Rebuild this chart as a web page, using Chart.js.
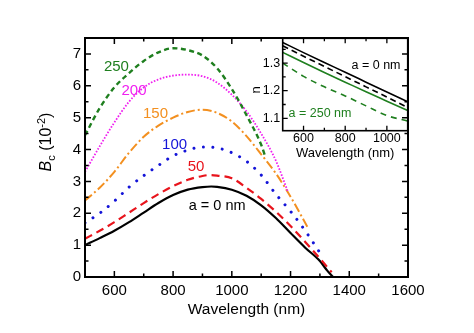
<!DOCTYPE html>
<html><head><meta charset="utf-8">
<script src="https://cdn.jsdelivr.net/npm/chart.js@4.4.1/dist/chart.umd.min.js"></script>
<style>
html,body{margin:0;padding:0;background:#fff;}
#wrap{position:relative;width:474px;height:333px;}
canvas{position:absolute;left:0;top:0;}
</style></head><body>
<div id="wrap"><canvas id="main" width="474" height="333"></canvas><canvas id="inset" width="474" height="333"></canvas></div>
<script>
// ---- main panel data: B_c (10^-2) vs wavelength (nm) ----
const lamA0   = [500,550,600,650,700,750,800,850,900,930,950,1000,1050,1100,1150,1200,1250,1300,1325,1345];
const bcA0    = [1.0,1.22,1.45,1.72,2.02,2.32,2.57,2.74,2.82,2.84,2.83,2.74,2.55,2.25,1.85,1.38,0.92,0.5,0.2,0.0];
const lamA50  = [500,550,600,650,700,750,800,850,900,925,950,1000,1050,1100,1150,1200,1250,1300,1340];
const bcA50   = [1.2,1.45,1.72,2.02,2.32,2.6,2.85,3.05,3.17,3.2,3.18,3.1,2.8,2.45,2.05,1.6,1.1,0.58,0.15];
const lamA100 = [500,550,600,650,700,750,800,850,900,950,1000,1050,1100,1150,1200,1250,1305];
const bcA100  = [1.7,2.0,2.38,2.82,3.18,3.5,3.8,3.98,4.08,4.05,3.9,3.63,3.2,2.6,2.06,1.45,0.69];
const lamA150 = [500,550,600,650,700,750,800,850,900,950,1000,1050,1100,1150,1200,1260];
const bcA150  = [2.4,2.8,3.3,3.9,4.4,4.75,5.0,5.18,5.25,5.15,4.88,4.42,3.85,3.25,2.52,1.53];
const lamA200 = [500,550,600,650,700,750,800,850,900,950,1000,1050,1100,1150,1190];
const bcA200  = [3.3,4.1,4.85,5.5,5.95,6.2,6.32,6.35,6.3,6.1,5.72,5.2,4.5,3.65,2.7];
const lamA250 = [500,550,600,650,700,750,800,850,900,950,1000,1050,1100,1115];
const bcA250  = [4.45,5.3,5.95,6.4,6.78,7.05,7.18,7.12,6.95,6.55,5.9,5.08,4.15,3.75];
const seriesNames = ['a = 0 nm','50','100','150','200','250'];
const mainXTicks = [500,600,700,800,900,1000,1100,1200,1300,1400,1500,1600];
const mainYTicks = [0,0.5,1,1.5,2,2.5,3,3.5,4,4.5,5,5.5,6,6.5,7,7.5];

// ---- inset data: n vs wavelength (nm) ----
const lamIn   = [500,600,700,800,900,1000,1100];
const nA0     = [1.375,1.338,1.302,1.267,1.231,1.195,1.16];
const nA0d    = [1.363,1.325,1.288,1.251,1.214,1.177,1.139];
const nA250   = [1.339,1.302,1.266,1.231,1.196,1.162,1.128];
const nA250d  = [1.300,1.252,1.214,1.181,1.145,1.110,1.090];
const insetXTicks = [500,600,700,800,900,1000,1100];
const insetYTicks = [1.1,1.15,1.2,1.25,1.3,1.35];

const pts = (xs, ys) => xs.map((x,i)=>({x, y: ys[i]}));
const FONT = "'Liberation Sans', Arial, Helvetica, sans-serif";
Chart.defaults.font.family = FONT;
Chart.defaults.color = '#000';

const C = {black:'#000000', red:'#e8141c', blue:'#1414d8', orange:'#f39020', magenta:'#f020f0', green:'#1f7f1f'};

const frameTicks = {
  id: 'frameTicks',
  afterDraw(chart, args, o) {
    const {ctx, chartArea: a, scales: {x, y}} = chart;
    ctx.save();
    ctx.strokeStyle = '#000';
    ctx.lineWidth = o.lw;
    ctx.strokeRect(a.left, a.top, a.right - a.left, a.bottom - a.top);
    ctx.lineWidth = o.tw;
    ctx.beginPath();
    x.ticks.forEach(t => {
      const p = x.getPixelForValue(t.value);
      if (p <= a.left + 0.5 || p >= a.right - 0.5) return;
      const L = t.label !== '' ? o.major : o.minor;
      ctx.moveTo(p, a.bottom); ctx.lineTo(p, a.bottom - L);
      if (o.topLimit == null || p < o.topLimit) { ctx.moveTo(p, a.top); ctx.lineTo(p, a.top + L); }
    });
    y.ticks.forEach(t => {
      const p = y.getPixelForValue(t.value);
      if (p >= a.bottom - 0.5 || p <= a.top + 0.5) return;
      const L = t.label !== '' ? o.major : o.minor;
      ctx.moveTo(a.left, p); ctx.lineTo(a.left + L, p);
      if (o.right) { ctx.moveTo(a.right, p); ctx.lineTo(a.right - L, p); }
    });
    ctx.stroke();
    (o.texts || []).forEach(tx => {
      ctx.font = tx.font; ctx.fillStyle = tx.color;
      ctx.textAlign = 'center'; ctx.textBaseline = 'middle';
      ctx.fillText(tx.text, x.getPixelForValue(tx.x), y.getPixelForValue(tx.y));
    });
    if (o.ytitle) {
      const yt = o.ytitle;
      ctx.translate(yt.cx, yt.cy);
      ctx.rotate(-Math.PI / 2);
      ctx.textAlign = 'left'; ctx.textBaseline = 'alphabetic'; ctx.fillStyle = '#000';
      let total = 0;
      yt.runs.forEach(r => { ctx.font = r.font; total += ctx.measureText(r.text).width; });
      let cx = -total / 2;
      yt.runs.forEach(r => { ctx.font = r.font; ctx.fillText(r.text, cx, yt.base + (r.dy || 0)); cx += ctx.measureText(r.text).width; });
    }
    ctx.restore();
  }
};

function lineDs(label, xs, ys, color, width, dash, cap) {
  return {label, data: pts(xs, ys), borderColor: color, borderWidth: width, borderDash: dash,
    borderCapStyle: cap || 'butt', pointRadius: 0, fill: false, cubicInterpolationMode: 'monotone'};
}
const setTicks = arr => s => { s.ticks = arr.map(v => ({value: v})); };

new Chart(document.getElementById('main'), {
  type: 'line',
  data: { datasets: [
    lineDs(seriesNames[5], lamA250, bcA250, C.green, 2.4, [5, 3.5]),
    lineDs(seriesNames[4], lamA200, bcA200, C.magenta, 1.8, [1.6, 1.6]),
    lineDs(seriesNames[3], lamA150, bcA150, C.orange, 2, [9, 3, 2, 3]),
    lineDs(seriesNames[2], lamA100, bcA100, C.blue, 3, [0.01, 9.5], 'round'),
    lineDs(seriesNames[1], lamA50, bcA50, C.red, 2.2, [8, 5]),
    lineDs(seriesNames[0], lamA0, bcA0, C.black, 2.2, []),
  ]},
  options: {
    responsive: false, animation: false, devicePixelRatio: 1,
    layout: { padding: {left: 0, top: 38, right: 66, bottom: 0} },
    plugins: { legend: {display: false}, tooltip: {enabled: false},
      frameTicks: { lw: 2, tw: 1.5, major: 6, minor: 3.5, right: true, topLimit: 282,
        texts: [
          {text: '250', x: 607, y: 6.59, color: C.green, font: '15px ' + FONT},
          {text: '200', x: 667, y: 5.83, color: C.magenta, font: '15px ' + FONT},
          {text: '150', x: 740, y: 5.11, color: C.orange, font: '15px ' + FONT},
          {text: '100', x: 805, y: 4.14, color: C.blue, font: '15px ' + FONT},
          {text: '50', x: 878, y: 3.46, color: C.red, font: '15px ' + FONT},
          {text: 'a = 0 nm', x: 950, y: 2.23, color: C.black, font: '14.5px ' + FONT},
        ],
        ytitle: { cx: 45, cy: 142, base: 5.5, runs: [
          {text: 'B', font: 'italic 16px ' + FONT},
          {text: 'c', font: '11px ' + FONT, dy: 4},
          {text: ' (10', font: '16px ' + FONT},
          {text: '-2', font: '11px ' + FONT, dy: -6},
          {text: ')', font: '16px ' + FONT},
        ]}
      }
    },
    scales: {
      x: { type: 'linear', position: 'bottom', min: 500, max: 1600,
        afterFit: s => { s.height = 56; }, afterBuildTicks: setTicks(mainXTicks),
        grid: {display: false, drawTicks: false}, border: {display: false},
        ticks: { autoSkip: false, maxRotation: 0, padding: 4.5, font: {size: 15},
          callback: v => (v % 200 === 0 ? String(v) : '') },
        title: { display: true, text: 'Wavelength (nm)', font: {size: 15.5}, padding: {top: 0, bottom: 14} }
      },
      y: { type: 'linear', min: 0, max: 7.5,
        afterFit: s => { s.width = 85; }, afterBuildTicks: setTicks(mainYTicks),
        grid: {display: false, drawTicks: false}, border: {display: false},
        ticks: { autoSkip: false, padding: 4, font: {size: 15},
          callback: v => (Math.abs(v - Math.round(v)) < 1e-6 ? String(Math.round(v)) : '') }
      }
    }
  },
  plugins: [frameTicks]
});

new Chart(document.getElementById('inset'), {
  type: 'line',
  data: { datasets: [
    lineDs('a = 250 nm dashed', lamIn, nA250d, C.green, 1.6, [6, 5]),
    lineDs('a = 250 nm', lamIn, nA250, C.green, 1.6, []),
    lineDs('a = 0 nm dashed', lamIn, nA0d, C.black, 1.6, [6, 4]),
    lineDs('a = 0 nm', lamIn, nA0, C.black, 1.6, []),
  ]},
  options: {
    responsive: false, animation: false, devicePixelRatio: 1,
    layout: { padding: {left: 240, top: 38.3, right: 66.3, bottom: 160.3} },
    plugins: { legend: {display: false}, tooltip: {enabled: false},
      frameTicks: { lw: 1.6, tw: 1.3, major: 5, minor: 3, right: false, topLimit: null,
        texts: [
          {text: 'a = 0 nm', x: 948, y: 1.293, color: C.black, font: '12.5px ' + FONT},
          {text: 'a = 250 nm', x: 679, y: 1.118, color: C.green, font: '12.5px ' + FONT},
        ],
        ytitle: { cx: 255, cy: 90, base: 4.5, runs: [ {text: 'n', font: '13px ' + FONT} ] }
      }
    },
    scales: {
      x: { type: 'linear', position: 'bottom', min: 500, max: 1100,
        afterFit: s => { s.height = 42; }, afterBuildTicks: setTicks(insetXTicks),
        grid: {display: false, drawTicks: false}, border: {display: false},
        ticks: { autoSkip: false, maxRotation: 0, padding: 0, font: {size: 12.5},
          callback: v => (v % 200 === 0 ? String(v) : '') },
        title: { display: true, text: 'Wavelength (nm)', font: {size: 13}, padding: {top: 0, bottom: 11.5} }
      },
      y: { type: 'linear', min: 1.055, max: 1.39,
        afterFit: s => { s.width = 42.7; }, afterBuildTicks: setTicks(insetYTicks),
        grid: {display: false, drawTicks: false}, border: {display: false},
        ticks: { autoSkip: false, padding: 2.5, font: {size: 12.5},
          callback: v => { const r = Math.round(v * 10) / 10; return Math.abs(v - r) < 1e-6 ? r.toFixed(1) : ''; } }
      }
    }
  },
  plugins: [frameTicks]
});
</script>
</body></html>
